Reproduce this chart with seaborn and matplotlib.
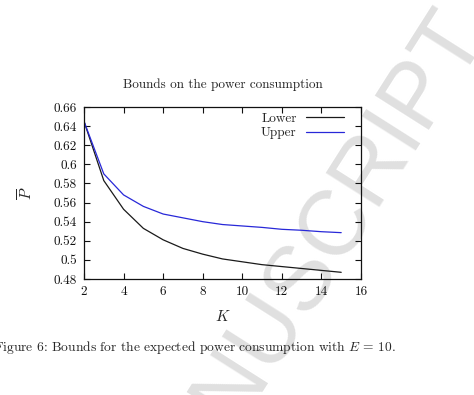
import numpy as np
import pandas as pd
import matplotlib
matplotlib.use("Agg")
import matplotlib.pyplot as plt
import seaborn as sns

# data
K = [2, 3, 4, 5, 6, 7, 8, 9, 10, 11, 12, 13, 14, 15]
lower = [0.645, 0.583, 0.553, 0.533, 0.521, 0.512, 0.506, 0.501, 0.498, 0.495, 0.493, 0.491, 0.489, 0.487]
upper = [0.645, 0.590, 0.568, 0.556, 0.548, 0.544, 0.540, 0.537, 0.5355, 0.534, 0.532, 0.531, 0.5295, 0.5285]
xticks = [2, 4, 6, 8, 10, 12, 14, 16]
yticks = [0.48, 0.5, 0.52, 0.54, 0.56, 0.58, 0.6, 0.62, 0.64, 0.66]

df = pd.DataFrame({"K": K * 2,
                   "P": lower + upper,
                   "bound": ["Lower"] * len(K) + ["Upper"] * len(K)})

sns.set_style("ticks")
plt.rcParams["font.family"] = ["cmr10"]
plt.rcParams["mathtext.fontset"] = "cm"
plt.rcParams["axes.formatter.use_mathtext"] = True

fig = plt.figure(figsize=(4.74, 3.95), dpi=100)
ax = fig.add_axes([84 / 474, 1 - 279 / 395, (361 - 84) / 474, (279 - 107) / 395])
ax.set_facecolor("none")

sns.lineplot(data=df, x="K", y="P", hue="bound",
             palette={"Lower": "#1a1a1a", "Upper": "#2828d8"},
             linewidth=0.9, ax=ax)

ax.set_xlim(2, 16)
ax.set_ylim(0.48, 0.66)
ax.set_xticks(xticks)
ax.set_xticklabels([str(t) for t in xticks])
ax.set_yticks(yticks)
ax.set_yticklabels(["%g" % t for t in yticks])
ax.tick_params(direction="in", top=True, right=True, length=4, width=0.8,
               labelsize=9.5, colors="#111111", pad=5)
for s in ax.spines.values():
    s.set_linewidth(0.9)
    s.set_color("#111111")

ax.set_title("Bounds on the power consumption", fontsize=9.5, pad=14)
ax.set_xlabel("$K$", fontsize=11, labelpad=8)
ax.set_ylabel(r"$\overline{P}$", fontsize=11, labelpad=13)

leg = ax.legend(loc="upper right", bbox_to_anchor=(0.939, 0.967), frameon=False,
                markerfirst=False, fontsize=9.5, handlelength=2.9, handletextpad=0.7,
                labelspacing=0.15, borderpad=0, borderaxespad=0)

fig.text(-0.012, 1 - 347 / 395, r"Figure 6: Bounds for the expected power consumption with $E\,=\,10$.",
         fontsize=9.7, va="center", ha="left")

# watermark
fig.text(485 / 474, 1 - 30 / 395, "MANUSCRIPT", fontsize=66, color="#e0e0e0",
         family="Liberation Sans", rotation=57.6,
         ha="right", va="baseline", rotation_mode="anchor", zorder=-1)

fig.savefig("out.png", dpi=100)
